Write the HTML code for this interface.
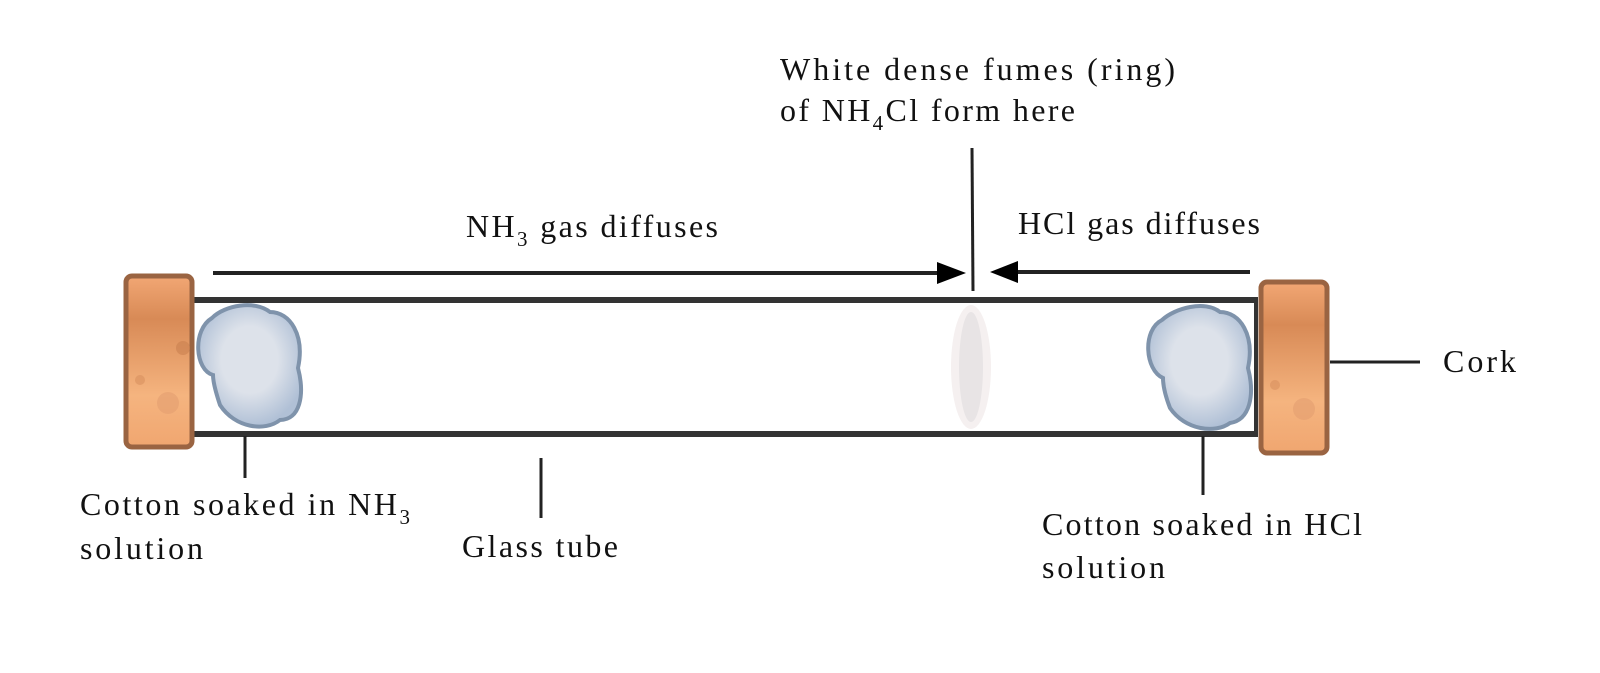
<!DOCTYPE html>
<html><head><style>
body{margin:0;background:#fff;}
svg text{font-family:"Liberation Serif",serif;font-size:32px;fill:#111;}
</style></head><body>
<svg width="1600" height="668" viewBox="0 0 1600 668" xmlns="http://www.w3.org/2000/svg">
<defs>
<linearGradient id="cork" x1="0" y1="0" x2="0" y2="1">
<stop offset="0" stop-color="#f2a774"/><stop offset="0.25" stop-color="#d88a56"/><stop offset="0.7" stop-color="#f5b47f"/><stop offset="1" stop-color="#f0a670"/>
</linearGradient>
<radialGradient id="cot" cx="0.5" cy="0.45" r="0.55">
<stop offset="0.5" stop-color="#dde2ea"/><stop offset="1" stop-color="#b0c0d6"/>
</radialGradient>
</defs>
<rect x="192" y="297" width="1066" height="6" fill="#333"/>
<rect x="192" y="431" width="1066" height="6" fill="#333"/>
<rect x="190" y="297" width="4" height="140" fill="#333"/>
<rect x="1254" y="297" width="4" height="140" fill="#333"/>
<ellipse cx="971" cy="367" rx="20" ry="62" fill="#f5f0f0"/>
<ellipse cx="971" cy="367" rx="12" ry="55" fill="#e8e4e5"/>
<rect x="126" y="276" width="66" height="171" rx="6" fill="url(#cork)" stroke="#9a6442" stroke-width="5"/>
<circle cx="168" cy="403" r="11" fill="#e5a172" opacity="0.7"/>
<circle cx="183" cy="348" r="7" fill="#c98050" opacity="0.6"/>
<circle cx="140" cy="380" r="5" fill="#d9915f" opacity="0.6"/>
<rect x="1261" y="282" width="66" height="171" rx="6" fill="url(#cork)" stroke="#9a6442" stroke-width="5"/>
<circle cx="1304" cy="409" r="11" fill="#e5a172" opacity="0.7"/>
<circle cx="1275" cy="385" r="5" fill="#d9915f" opacity="0.6"/>
<path d="M212,318 C225,305 255,300 270,312 C290,312 305,335 298,368 C305,395 300,420 280,420 C265,432 235,428 220,405 C215,390 213,380 213,375 C195,370 192,330 212,318 Z" fill="url(#cot)" stroke="#7f93ab" stroke-width="4"/>
<path d="M1162,320 C1175,308 1205,300 1220,312 C1240,312 1255,335 1248,368 C1255,395 1250,420 1230,423 C1215,434 1185,430 1170,408 C1165,395 1163,385 1163,378 C1145,370 1142,330 1162,320 Z" fill="url(#cot)" stroke="#7f93ab" stroke-width="4"/>
<line x1="213" y1="273" x2="945" y2="273" stroke="#222" stroke-width="4"/>
<polygon points="966,273 937,262 937,284" fill="#000"/>
<line x1="1012" y1="272" x2="1250" y2="272" stroke="#222" stroke-width="4"/>
<polygon points="990,272 1018,261 1018,283" fill="#000"/>
<line x1="972" y1="148" x2="973" y2="291" stroke="#222" stroke-width="3"/>
<line x1="245" y1="436" x2="245" y2="478" stroke="#222" stroke-width="3"/>
<line x1="541" y1="458" x2="541" y2="518" stroke="#222" stroke-width="3"/>
<line x1="1203" y1="436" x2="1203" y2="495" stroke="#222" stroke-width="3"/>
<line x1="1330" y1="362" x2="1420" y2="362" stroke="#222" stroke-width="3"/>
<text x="780" y="80" textLength="395" lengthAdjust="spacing">White dense fumes (ring)</text>
<text x="780" y="121" textLength="295" lengthAdjust="spacing">of NH<tspan font-size="21" dy="9">4</tspan><tspan dy="-9">Cl form here</tspan></text>
<text x="466" y="237" textLength="252" lengthAdjust="spacing">NH<tspan font-size="21" dy="9">3</tspan><tspan dy="-9"> gas diffuses</tspan></text>
<text x="1018" y="234" textLength="242" lengthAdjust="spacing">HCl gas diffuses</text>
<text x="1443" y="372" textLength="73" lengthAdjust="spacing">Cork</text>
<text x="80" y="515" textLength="330" lengthAdjust="spacing">Cotton soaked in NH<tspan font-size="21" dy="9">3</tspan></text>
<text x="80" y="559" textLength="123" lengthAdjust="spacing">solution</text>
<text x="462" y="557" textLength="156" lengthAdjust="spacing">Glass tube</text>
<text x="1042" y="535" textLength="320" lengthAdjust="spacing">Cotton soaked in HCl</text>
<text x="1042" y="578" textLength="123" lengthAdjust="spacing">solution</text>
</svg>
</body></html>
